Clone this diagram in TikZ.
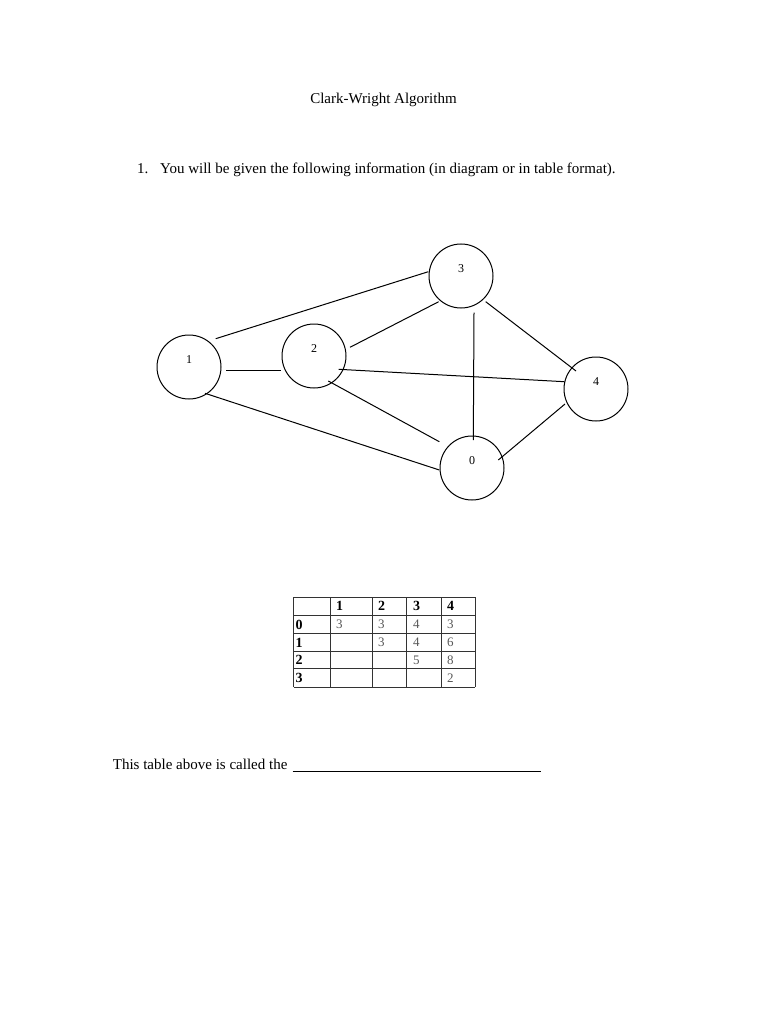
\documentclass[tikz,border=0pt]{standalone}
\usepackage{fontspec}
\setmainfont{Liberation Serif}
\usetikzlibrary{calc}
\begin{document}
\begin{tikzpicture}[x=1pt,y=-1pt,
  vtx/.style={circle,draw,line width=1pt,minimum size=64pt,inner sep=0pt,
    label={[font=\fontsize{12}{14}\selectfont,yshift=7pt]center:#1}},
  edge/.style={line width=1pt},
  txt/.style={inner sep=0pt,font=\fontsize{15}{18}\selectfont},
  grid/.style={line width=0.9pt,black!80},
  hcell/.style={inner sep=0pt,anchor=west,font=\fontsize{14}{16}\selectfont\bfseries},
  vcell/.style={inner sep=0pt,anchor=west,font=\fontsize{13}{15}\selectfont,text=black!65}]
\useasboundingbox (0,0) rectangle (768,1024);
\fill[white] (0,0) rectangle (768,1024);

% texts
\node[txt,anchor=base] (title) at (383.5,104) {Clark-Wright Algorithm};
\node[txt,anchor=base west] (num) at (137,174) {1.};
\node[txt,anchor=base west] (q1) at (160,174) {You will be given the following information (in diagram or in table format).};
\node[txt,anchor=base west] (q2) at (112.7,769.5) {This table above is called the};
\coordinate (ua) at (292.7,771.5);
\coordinate (ub) at (541,771.5);
\draw[line width=1pt] (ua) -- (ub);

% graph
\node[vtx=1] (n1) at (189,367) {};
\node[vtx=2] (n2) at (314,356) {};
\node[vtx=3] (n3) at (461,276) {};
\node[vtx=4] (n4) at (596,389) {};
\node[vtx=0] (n0) at (472,468) {};

\draw[edge] ($(n1)+(26.7,-28.3)$) -- ($(n3)+(-32.7,-4.3)$);
\draw[edge] ($(n1)+(37,3)$) -- ($(n2)+(-33.3,14)$);
\draw[edge] ($(n1)+(16,26.3)$) -- ($(n0)+(-32.7,2)$);
\draw[edge] ($(n2)+(36,-8.7)$) -- ($(n3)+(-22.3,25.7)$);
\draw[edge] ($(n2)+(24.7,13.3)$) -- ($(n4)+(-31.7,-7.3)$);
\draw[edge] ($(n2)+(14.3,25)$) -- ($(n0)+(-32.7,-26.3)$);
\draw[edge] ($(n3)+(13,36.7)$) -- ($(n0)+(1.3,-28)$);
\draw[edge] ($(n3)+(24.7,25.7)$) -- ($(n4)+(-20,-18)$);
\draw[edge] ($(n4)+(-31,15)$) -- ($(n0)+(26.3,-8)$);

% table
\foreach \x in {293.5,330,372,406.5,441,475}
  \draw[grid] (\x,597) -- (\x,687);
\foreach \y in {597,615.5,633.5,651.5,668.5,687}
  \draw[grid] (293.5,\y) -- (475,\y);

\node[hcell] (h1) at (336,606.25) {1};
\node[hcell] (h2) at (378,606.25) {2};
\node[hcell] (h3) at (413,606.25) {3};
\node[hcell] (h4) at (447,606.25) {4};
\node[hcell] (r0) at (295.5,624.5) {0};
\node[hcell] (r1) at (295.5,642.5) {1};
\node[hcell] (r2) at (295.5,660) {2};
\node[hcell] (r3) at (295.5,677.75) {3};

\node[vcell] (c01) at (336,624.5) {3};
\node[vcell] (c02) at (378,624.5) {3};
\node[vcell] (c03) at (413,624.5) {4};
\node[vcell] (c04) at (447,624.5) {3};
\node[vcell] (c12) at (378,642.5) {3};
\node[vcell] (c13) at (413,642.5) {4};
\node[vcell] (c14) at (447,642.5) {6};
\node[vcell] (c23) at (413,660) {5};
\node[vcell] (c24) at (447,660) {8};
\node[vcell] (c34) at (447,677.75) {2};
\end{tikzpicture}
\end{document}
